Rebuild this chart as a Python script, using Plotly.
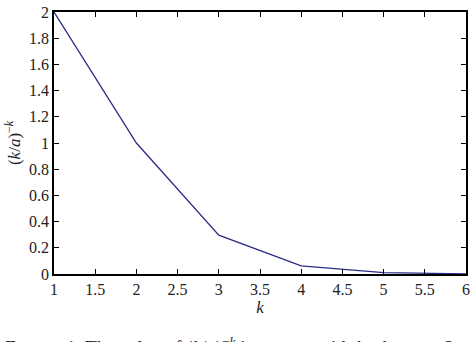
import plotly.graph_objects as go

k_values = [1, 2, 3, 4, 5, 6]
y_values = [2.0, 1.0, 0.296, 0.0625, 0.0102, 0.0014]
x_ticks = [1, 1.5, 2, 2.5, 3, 3.5, 4, 4.5, 5, 5.5, 6]
y_ticks = [0, 0.2, 0.4, 0.6, 0.8, 1, 1.2, 1.4, 1.6, 1.8, 2]

FONT = "Liberation Serif, DejaVu Serif, serif"

fig = go.Figure()
fig.add_trace(go.Scatter(x=k_values, y=y_values, mode="lines",
                         line=dict(color="#2b2b86", width=1.3), showlegend=False))

axis_common = dict(showline=True, linecolor="black", linewidth=1.5, mirror="ticks",
                   ticks="inside", ticklen=5, tickwidth=1, tickcolor="black",
                   showgrid=False, zeroline=False, ticklabeloverflow="allow",
                   tickfont=dict(family=FONT, size=16, color="#222"))

fig.update_xaxes(range=[1, 6], tickvals=x_ticks, ticktext=[f"{v:g}" for v in x_ticks],
                 title=dict(text="<i>k</i>", font=dict(family=FONT, size=17, color="#222"), standoff=3),
                 **axis_common)
fig.update_yaxes(range=[0, 2], tickvals=y_ticks, ticktext=[f"{v:g}" for v in y_ticks],
                 title=dict(text="(<i>k</i>/<i>a</i>)<sup>−<i>k</i></sup>",
                            font=dict(family=FONT, size=17, color="#222"), standoff=4),
                 **axis_common)

fig.add_annotation(text="F<span style='font-size:15px'>IGURE</span> 1: The value of (<i>k</i>/<i>a</i>)<sup>−<i>k</i></sup> is convex with <i>k</i> when <i>a</i> = 2",
                   xref="paper", yref="paper", x=-0.125, y=-0.222, xanchor="left", yanchor="top",
                   showarrow=False, font=dict(family=FONT, size=19, color="#222"))

fig.update_layout(width=474, height=342, margin=dict(l=54, r=4, t=7, b=68),
                  paper_bgcolor="white", plot_bgcolor="white")
fig.write_html("out.html")
